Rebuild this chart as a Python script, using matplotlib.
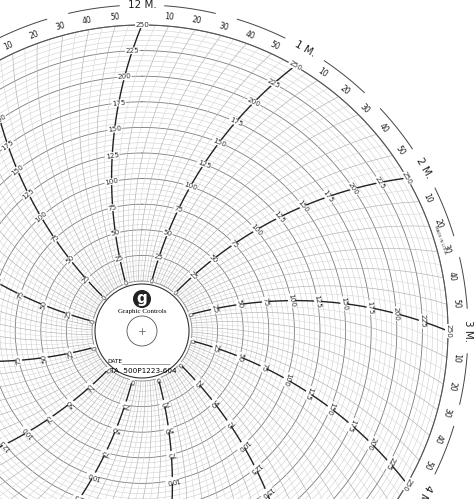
import numpy as np
import matplotlib
matplotlib.use("Agg")
import matplotlib.pyplot as plt

hour_labels = ["12 M.", "1 M.", "2 M.", "3 M.", "4 M.", "5 M.", "6 M.", "7 M.", "8 M.", "9 M.", "10 M.", "11 M."]
minute_labels = ["10", "20", "30", "40", "50"]
value_ticks = [0, 25, 50, 75, 100, 125, 150, 175, 200, 225, 250]

cx, cy = 142, 331
R0, R = 50.0, 306.0
L = 400.0

def rad(v):
    return R0 + (R - R0) * v / 250.0

def phi(r):
    return np.arccos(np.clip(r / (2 * L), -1, 1))

def arc_angle(theta, r):
    return theta - (phi(r) - phi(R))

def xy(r, a):
    return cx + r * np.sin(a), cy - r * np.cos(a)

fig = plt.figure(figsize=(4.74, 4.99), dpi=100)
ax = fig.add_axes([0, 0, 1, 1])
ax.set_xlim(0, 474)
ax.set_ylim(499, 0)
ax.axis("off")

t = np.linspace(0, 2 * np.pi, 720)
for v in np.arange(0, 251, 5):
    r = rad(v)
    major = v % 25 == 0
    ax.plot(cx + r * np.sin(t), cy - r * np.cos(t),
            color="#7a7a7a" if major else "#c8c8c8", lw=0.6 if major else 0.35, zorder=1)
ax.plot(cx + R * np.sin(t), cy - R * np.cos(t), color="#555555", lw=0.8, zorder=3)

rr = np.linspace(R0, R, 200)
for m in range(0, 720, 5):
    th = np.deg2rad(m / 2.0)
    a = arc_angle(th, rr)
    x, y = xy(rr, a)
    if m % 60 == 0:
        ax.plot(x, y, color="#222222", lw=1.0, zorder=2)
    elif m % 10 == 0:
        ax.plot(x, y, color="#b0b0b0", lw=0.45, zorder=1)
    else:
        ax.plot(x, y, color="#d2d2d2", lw=0.35, zorder=1)

for h, lab in enumerate(hour_labels):
    th = np.deg2rad(h * 30)
    x, y = xy(R + 20, th)
    ax.text(x, y, lab, fontsize=7.5, ha="center", va="center",
            rotation=-np.rad2deg(th), rotation_mode="anchor", color="#222222")
    for s in (-1, 1):
        ta = np.deg2rad(np.linspace(h * 30 + s * 4, h * 30 + s * 13, 30))
        ax.plot(*xy(R + 20, ta), color="#444444", lw=0.7)
    for k, ml in enumerate(minute_labels):
        tm = np.deg2rad(h * 30 + (k + 1) * 5)
        x, y = xy(R + 9, tm)
        ax.text(x, y, ml, fontsize=5.5, ha="center", va="center",
                rotation=-np.rad2deg(tm), rotation_mode="anchor", color="#222222")
    for v in value_ticks:
        r = rad(v)
        a = arc_angle(th, r)
        x, y = xy(r, a)
        ax.text(x, y, str(v), fontsize=5.2, ha="center", va="center",
                rotation=-np.rad2deg(a), color="#333333",
                bbox=dict(facecolor="white", edgecolor="none", pad=0.2), zorder=4)

ax.add_patch(plt.Circle((cx, cy), 47, facecolor="white", edgecolor="#333333", lw=0.8, zorder=5))
ax.add_patch(plt.Circle((cx, cy), 15, facecolor="white", edgecolor="#555555", lw=0.6, zorder=6))
ax.plot([cx - 3, cx + 3], [cy, cy], color="#555555", lw=0.5, zorder=7)
ax.plot([cx, cx], [cy - 3, cy + 3], color="#555555", lw=0.5, zorder=7)
ax.text(cx, cy - 32, "g", fontsize=11, ha="center", va="center", color="white",
        fontweight="bold", zorder=7,
        bbox=dict(boxstyle="circle,pad=0.1", facecolor="#222222", edgecolor="none"))
ax.text(cx, cy - 19, "Graphic Controls", fontsize=5, ha="center", va="center", zorder=7,
        family="Liberation Serif")
ax.text(cx - 35, cy + 30, "DATE________________", fontsize=4.2, ha="left", va="center", zorder=7)
ax.text(cx - 32, cy + 40, "TA  500P1223-604", fontsize=5.2, ha="left", va="center", zorder=7)
ax.text(440, 240, "MADE IN U.S.A.", fontsize=3, rotation=-70, ha="center", va="center",
        color="#333333", zorder=4, bbox=dict(facecolor="white", edgecolor="none", pad=0.2))

fig.savefig("out.png", dpi=100, facecolor="white")
